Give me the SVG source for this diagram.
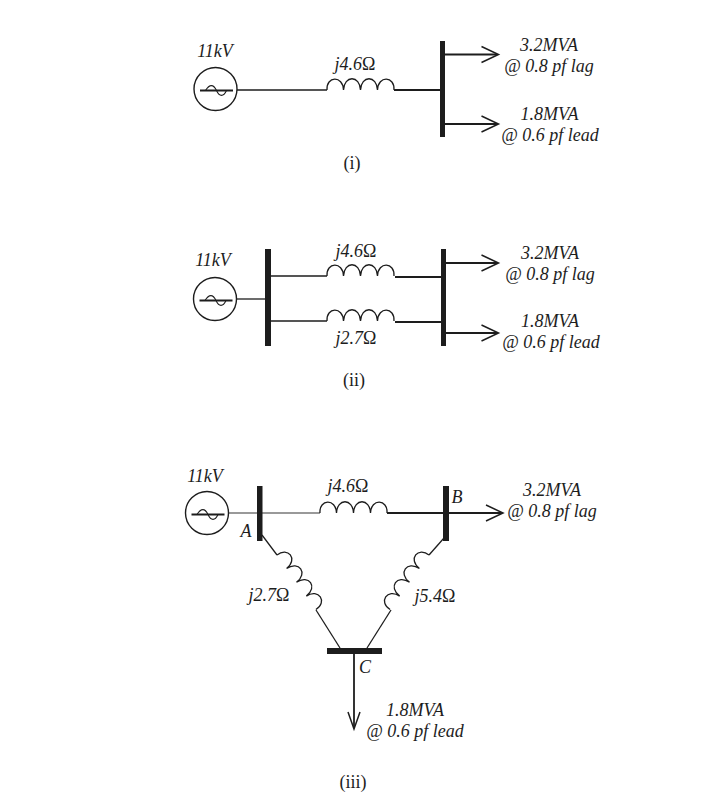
<svg xmlns="http://www.w3.org/2000/svg" width="718" height="803" viewBox="0 0 718 803">
<style>
text{font-family:"Liberation Serif","Times New Roman",serif;font-style:italic;font-size:18px;fill:#1d1d1d;text-anchor:middle}
.u{font-style:normal}
.w{fill:none;stroke:#1d1d1d;stroke-width:1.3}
.t{fill:none;stroke:#1d1d1d;stroke-width:2}
.g{fill:none;stroke:#777;stroke-width:1.4}
.bus{fill:#1d1d1d}
.a{fill:none;stroke:#1d1d1d;stroke-width:1.8}
.h{fill:none;stroke:#1d1d1d;stroke-width:1.5}
</style>
<defs>
<g id="gen">
<circle r="21.5" fill="#fff" stroke="#1d1d1d" stroke-width="1.4"/>
<path d="M-15.5 1.5H17.5" fill="none" stroke="#1d1d1d" stroke-width="2.2"/>
<path d="M-10 1.5C-6 -5 -2 -5 1 1.5C4 8 8 8 11 1.5" fill="none" stroke="#1d1d1d" stroke-width="1.1"/>
</g>
<path id="coil" class="w" d="M0 0C-1 -14 16 -15 16.5 0C17 -15 33 -15 33.5 0C34 -15 50 -15 50.5 0C51 -15 68 -14 67 0"/>
<path id="head" class="h" d="M-17 -8L0 0L-17 8"/>
<path id="headv" class="h" d="M-17 -6L0 0L-17 6"/>
</defs>

<g id="connectors">
<path class="w" d="M237 90H327"/><use href="#coil" x="327" y="90"/><path class="t" d="M394 90H440"/>
<path class="a" d="M445 54.500H497"/><use href="#head" x="498.500" y="54.500"/>
<path class="a" d="M445 124H497"/><use href="#head" x="498.500" y="124"/>

<path class="w" d="M236 299H265"/>
<path class="w" d="M271 276H327"/><use href="#coil" x="327" y="276"/><path class="t" d="M395 277H441"/>
<path class="w" d="M271 321H327"/><use href="#coil" x="327" y="321"/><path class="t" d="M395 322H441"/>
<path class="a" d="M446 263H497"/><use href="#head" x="498.500" y="263"/>
<path class="a" d="M446 333H497"/><use href="#head" x="498.500" y="333"/>

<path class="g" d="M229 513H320"/><use href="#coil" x="320" y="513"/><path class="t" d="M387 513H443"/>
<path class="a" d="M449 513H502"/><use href="#head" x="503" y="513"/>
<path class="w" d="M262 535L277 555"/><use href="#coil" transform="translate(277 555) rotate(54.5)"/><path class="w" d="M316 610L340 648"/>
<path class="w" d="M444 538L429 555"/><use href="#coil" transform="translate(429 555) rotate(125.5) scale(1 -1)"/><path class="w" d="M391 610L367 648"/>
<path class="a" d="M354 654V727"/><use href="#headv" transform="translate(354 729) rotate(90)"/>
</g>

<g id="panel-i">
<g id="gen1"><use href="#gen" x="215.500" y="89"/><text x="215" y="56.500">11kV</text></g>
<g id="x1"><text x="355" y="69.500">j4.6<tspan class="u">Ω</tspan></text></g>
<rect id="bus1" class="bus" x="440" y="41" width="5" height="96"/>
<g id="load1a"><text x="549" y="51">3.2MVA</text><text x="549" y="72">@ 0.8 pf lag</text></g>
<g id="load1b"><text x="549.500" y="120">1.8MVA</text><text x="550" y="141">@ 0.6 pf lead</text></g>
<text class="u" x="352" y="168.500">(i)</text>
</g>

<g id="panel-ii">
<g id="gen2"><use href="#gen" x="215" y="299"/><text x="213" y="265.500">11kV</text></g>
<rect id="bus2a" class="bus" x="265" y="249" width="6" height="97"/>
<rect id="bus2b" class="bus" x="441" y="249" width="5" height="97"/>
<g id="x2a"><text x="356" y="256.500">j4.6<tspan class="u">Ω</tspan></text></g>
<g id="x2b"><text x="356" y="343.500">j2.7<tspan class="u">Ω</tspan></text></g>
<g id="load2a"><text x="550" y="259">3.2MVA</text><text x="550" y="280">@ 0.8 pf lag</text></g>
<g id="load2b"><text x="550" y="327">1.8MVA</text><text x="551" y="348">@ 0.6 pf lead</text></g>
<text class="u" x="354" y="385.500">(ii)</text>
</g>

<g id="panel-iii">
<g id="gen3"><use href="#gen" x="207" y="513"/><text x="205" y="481.500">11kV</text></g>
<g id="busA"><rect class="bus" x="257" y="486" width="5.500" height="55"/><text x="246" y="536.500">A</text></g>
<g id="busB"><rect class="bus" x="443" y="486" width="6" height="55"/><text x="457" y="502.500">B</text></g>
<g id="busC"><rect class="bus" x="327" y="648" width="55" height="6"/><text x="365" y="672.500">C</text></g>
<g id="x3a"><text x="348" y="491.500">j4.6<tspan class="u">Ω</tspan></text></g>
<g id="x3b"><text x="269" y="600.500">j2.7<tspan class="u">Ω</tspan></text></g>
<g id="x3c"><text x="435" y="601.500">j5.4<tspan class="u">Ω</tspan></text></g>
<g id="load3a"><text x="552" y="495.500">3.2MVA</text><text x="552" y="516.500">@ 0.8 pf lag</text></g>
<g id="load3c"><text x="415" y="715.500">1.8MVA</text><text x="415" y="736.500">@ 0.6 pf lead</text></g>
<text class="u" x="353" y="787.500">(iii)</text>
</g>
</svg>
